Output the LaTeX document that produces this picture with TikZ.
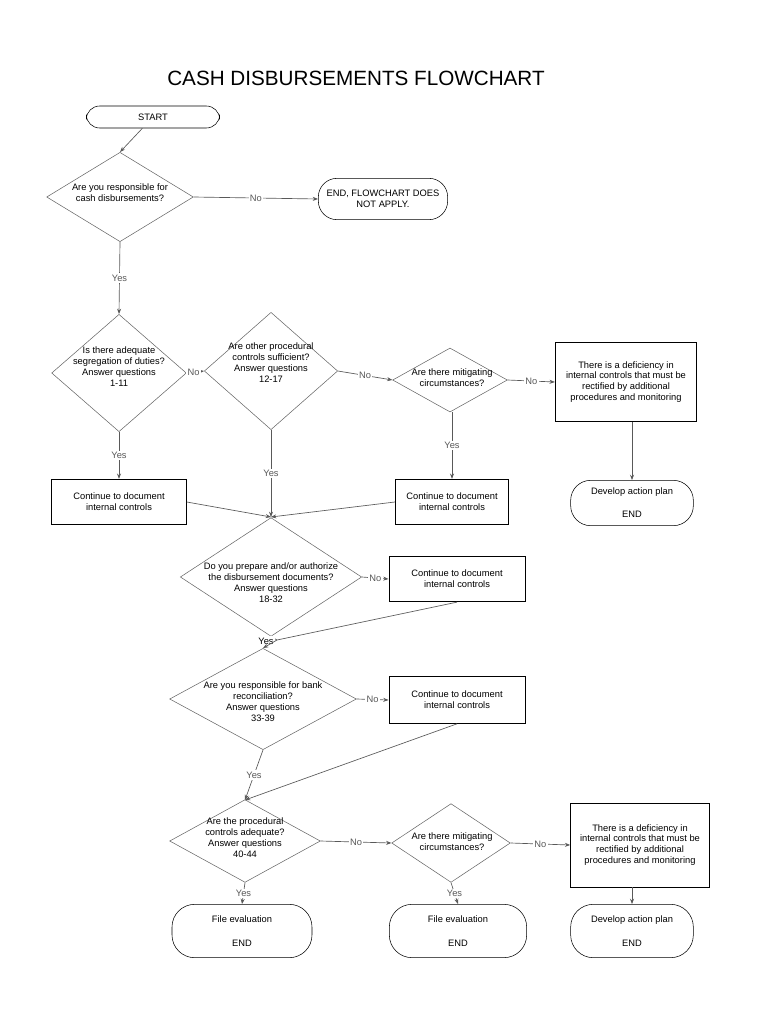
\documentclass[tikz,border=0pt]{standalone}
\usepackage{fontspec}
\setmainfont{Liberation Sans}
\usetikzlibrary{shapes.geometric,arrows.meta}
\begin{document}
\begin{tikzpicture}[x=0.75pt,y=-0.75pt,font=\fontsize{7}{8.2}\selectfont,
  every node/.style={inner sep=0pt,align=center},
  dia/.style={draw,gray!80!black,diamond,text=black},
  box/.style={draw,line width=0.7pt,text=black},
  rbox/.style={draw,rounded corners=10pt,text=black},
  ln/.style={draw,gray!70!black,line width=0.5pt},
  ar/.style={ln,-{Stealth[length=4pt,width=3pt]}},
  lab/.style={fill=white,inner sep=1pt}]
\useasboundingbox (0,0) rectangle (768,1024);
\node (title) at (356,78) {\fontsize{15.5}{18}\selectfont CASH DISBURSEMENTS FLOWCHART};
\node[rbox,minimum width=100pt,minimum height=16.5pt] (start) at (153,117) {START};
\node[dia,minimum width=110pt,minimum height=67pt] (d1) at (120,197) {};
\node at (120,193) {Are you responsible for\\cash disbursements?};
\node[rbox,minimum width=97pt,minimum height=31pt,rounded corners=14pt] (end1) at (383,199) {END, FLOWCHART DOES\\NOT APPLY.};
\node[dia,minimum width=101pt,minimum height=88pt] (d2) at (119,373) {};
\node at (119,367) {Is there adequate\\segregation of duties?\\Answer questions\\1-11};
\node[dia,minimum width=100pt,minimum height=88pt] (d3) at (271,371) {};
\node at (271,363) {Are other procedural\\controls sufficient?\\Answer questions\\12-17};
\node[dia,minimum width=86pt,minimum height=48pt] (d4) at (450,380) {};
\node at (452,378) {Are there mitigating\\circumstances?};
\node[box,minimum width=106pt,minimum height=59pt] (def1) at (626,382) {There is a deficiency in\\internal controls that must be\\rectified by additional\\procedures and monitoring};
\node[box,minimum width=101pt,minimum height=34pt] (c1) at (119,502) {Continue to document\\internal controls};
\node[box,minimum width=85pt,minimum height=34pt] (c2) at (452,502) {Continue to document\\internal controls};
\node[rbox,minimum width=92pt,minimum height=34pt,rounded corners=15pt] (dev1) at (632,503) {Develop action plan\\[9pt]END};
\node[dia,minimum width=136pt,minimum height=89pt] (d5) at (271,577) {};
\node at (271,583) {Do you prepare and/or authorize\\the disbursement documents?\\Answer questions\\18-32};
\node[box,minimum width=102pt,minimum height=34pt] (c3) at (457,579) {Continue to document\\internal controls};
\node[dia,minimum width=140pt,minimum height=76pt] (d6) at (263,699) {};
\node at (263,702) {Are you responsible for bank\\reconciliation?\\Answer questions\\33-39};
\node[box,minimum width=102pt,minimum height=35pt] (c4) at (457,700) {Continue to document\\internal controls};
\node[dia,minimum width=113pt,minimum height=62pt] (d7) at (245,841) {};
\node at (245,838) {Are the procedural\\controls adequate?\\Answer questions\\40-44};
\node[dia,minimum width=89pt,minimum height=59pt] (d8) at (451,843) {};
\node at (452,842) {Are there mitigating\\circumstances?};
\node[box,minimum width=104pt,minimum height=63pt] (def2) at (640,845) {There is a deficiency in\\internal controls that must be\\rectified by additional\\procedures and monitoring};
\node[rbox,minimum width=105pt,minimum height=40pt,rounded corners=17pt] (fe1) at (242,931) {File evaluation\\[10pt]END};
\node[rbox,minimum width=103pt,minimum height=40pt,rounded corners=17pt] (fe2) at (458,931) {File evaluation\\[10pt]END};
\node[rbox,minimum width=92pt,minimum height=40pt,rounded corners=17pt] (dev2) at (632,931) {Develop action plan\\[10pt]END};
\coordinate (m5) at (271,517);
\coordinate (m7) at (245,800);
\coordinate (y5) at (277,640);
% connectors
\draw[ar] (start) -- (d1.north);
\draw[ar] (d1.east) -- node[lab]{No} (end1.west);
\draw[ar] (d1.south) -- node[lab,pos=0.5]{Yes} (d2.north);
\draw[ar] (d2.east) -- node[lab,pos=0.4]{No} (d3.west);
\draw[ar] (d3.east) -- node[lab]{No} (d4.west);
\draw[ar] (d4.east) -- node[lab]{No} (def1.west);
\draw[ar] (d2.south) -- node[lab]{Yes} (c1.north);
\draw[ar] (d3.south) -- node[lab]{Yes} (m5);
\draw[ar] (d4.south -| c2.north) -- node[lab]{Yes} (c2.north);
\draw[ar] (def1.south -| dev1.north) -- (dev1.north);
\draw[ar] (c1.east) -- (m5);
\draw[ar] (c2.west) -- (m5);
\draw[ar] (d5.east) -- node[lab]{No} (c3.west);
\draw[ln] (d5.south) -- (y5);
\draw[ln] (c3.south) -- (y5);
\node[lab] at (266,641) {Yes};
\draw[ar] (y5) -- (d6.north);
\draw[ar] (d6.east) -- node[lab]{No} (c4.west);
\draw[ar] (d6.south) -- node[lab]{Yes} (m7);
\draw[ar] (c4.south) -- (m7);
\draw[ar] (d7.east) -- node[lab]{No} (d8.west);
\draw[ar] (d8.east) -- node[lab]{No} (def2.west);
\draw[ar] (d7.south) -- node[lab]{Yes} (fe1.north);
\draw[ar] (d8.south) -- node[lab]{Yes} (fe2.north);
\draw[ar] (def2.south -| dev2.north) -- (dev2.north);
\end{tikzpicture}
\end{document}
